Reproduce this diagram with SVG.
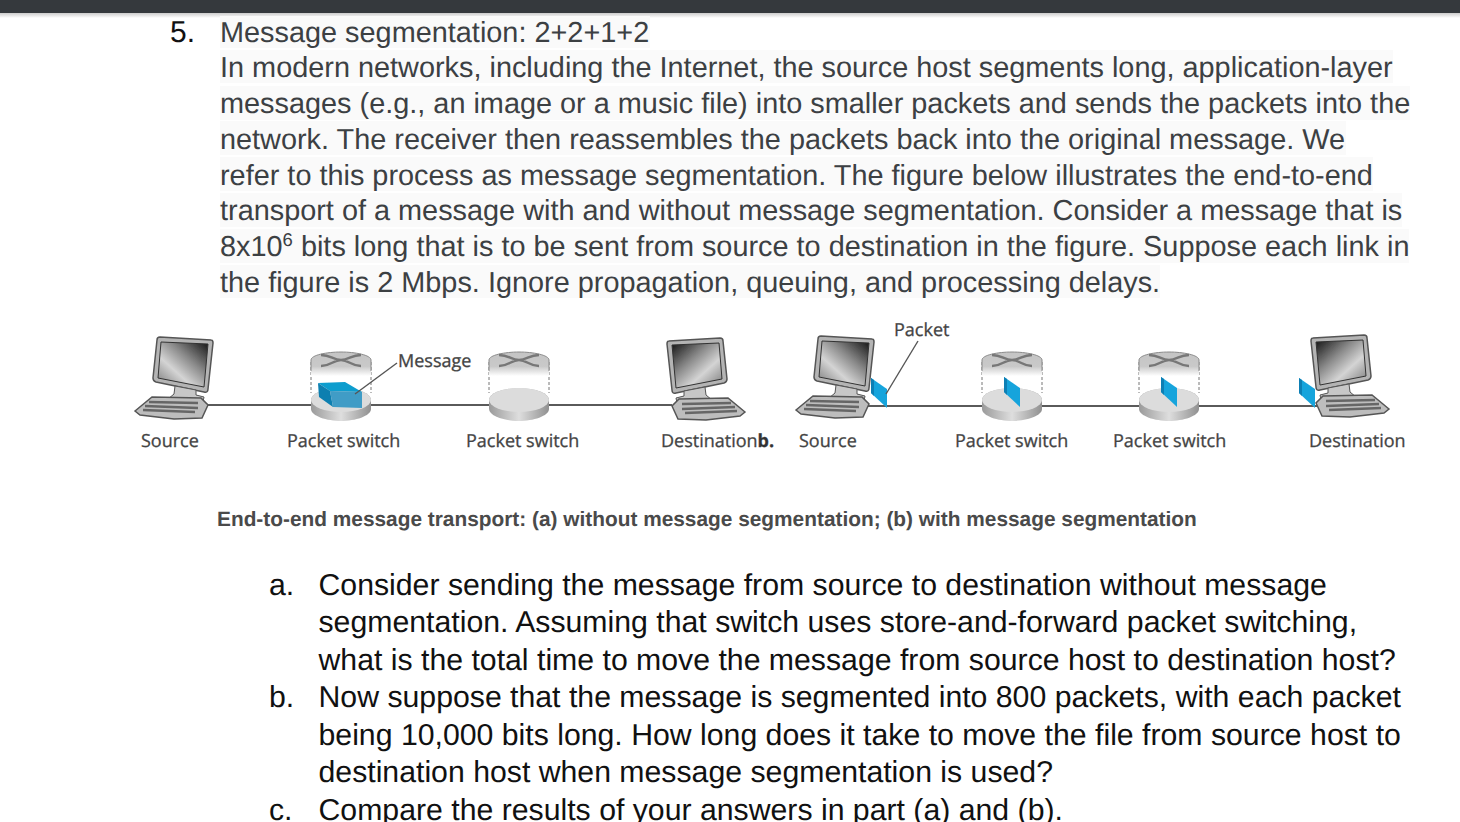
<svg xmlns="http://www.w3.org/2000/svg" width="1460" height="822" viewBox="0 0 1460 822">
<style>
text{text-rendering:geometricPrecision}
.q{font-family:"Liberation Sans",Arial,sans-serif;font-size:28.87px;fill:#3c4043}
.n{font-family:"Liberation Sans",Arial,sans-serif;font-size:30px;fill:#111}
.s{font-family:"Liberation Sans",Arial,sans-serif;font-size:30.24px;fill:#111}
.l{font-family:"Open Sans","Noto Sans",sans-serif;font-size:18px;fill:#444;stroke:#444;stroke-width:.3}
.c{font-family:"Liberation Sans",Arial,sans-serif;font-size:20.85px;font-weight:bold;fill:#4a4a4a}
.hl{fill:#fafafa}
.wire{stroke:#5a5a5a;stroke-width:2;fill:none}
.lead{stroke:#555;stroke-width:1.4;fill:none}
</style>
<defs>
<filter id="soft" x="-10%" y="-10%" width="120%" height="120%"><feGaussianBlur stdDeviation="0.5"/></filter>
<linearGradient id="shadow" x1="0" y1="0" x2="0" y2="1"><stop offset="0" stop-color="#ccc"/><stop offset="1" stop-color="#fff"/></linearGradient>
<linearGradient id="scr2" x1="0" y1="1" x2="1" y2="0"><stop offset="0" stop-color="#777"/><stop offset=".35" stop-color="#d4d4d4"/><stop offset=".62" stop-color="#8a8a8a"/><stop offset="1" stop-color="#141414"/></linearGradient>
<linearGradient id="cap" x1="0" y1="0" x2="0" y2="1"><stop offset="0" stop-color="#c4c4c4"/><stop offset=".6" stop-color="#c9c9c9"/><stop offset="1" stop-color="#fff"/></linearGradient>
<linearGradient id="base" x1="0" y1="0" x2="1" y2="0"><stop offset="0" stop-color="#9a9a9a"/><stop offset=".5" stop-color="#dedede"/><stop offset="1" stop-color="#909090"/></linearGradient>
<g id="computer">
<path d="M160 337 L211 340 Q213 340 213 343 L208 389 Q208 393 204 392 L156 382 Q153 381 153 378 L157 340 Q157 337 160 337Z" fill="#b4b4b4" stroke="#555" stroke-width="1.5"/>
<path d="M161 342 L208 344 L204 387 L158 378Z" fill="url(#scr2)" stroke="#333"/>
<path d="M175 386 L196 390 L196 395 L204 397 L203 402 L168 399 L174 394Z" fill="#c7c7c7" stroke="#555"/>
<path d="M135 411 L152 397 L201 398 L208 405 L202 418 L174 419 L140 415Z" fill="#bdbdbd" stroke="#555" stroke-width="1.5"/>
<path d="M149 402 L198 403 M145 406 L198 408 M143 410 L195 412" stroke="#666" stroke-width="2.6" fill="none"/>
</g>
<g id="switch">
<path d="M-30 -39 V-8 M30 -39 V-8" stroke="#777" stroke-dasharray="3 2" fill="none"/>
<path d="M-30 -1 A30 12 0 0 1 30 -1 V8 C30 15 14 20 0 20 C-14 20 -30 15 -30 8Z" fill="url(#base)"/>
<ellipse cx="0" cy="-1" rx="30" ry="12" fill="#dcdcdc"/>
<path d="M-30 -41 C-30 -46 -14 -49 0 -49 C14 -49 30 -46 30 -41 V-25 H-30Z" fill="url(#cap)"/>
<path d="M-30 -30 V-41 C-30 -46 -14 -49 0 -49 C14 -49 30 -46 30 -41 V-30" fill="none" stroke="#8a8a8a"/>
<path d="M-20 -46 C-10 -46 -8 -41 0 -41 C8 -41 10 -35 20 -35 M-20 -35 C-10 -35 -8 -41 0 -41 C8 -41 10 -46 20 -46" stroke="#777" stroke-width="2.4" fill="none"/>
</g>
<g id="pkt">
<path d="M0 0 L16 11 V30 L0 15Z" fill="#18a4dc"/>
<path d="M0 0 L3 2 V18 L0 15Z" fill="#0d7fb4"/>
</g>
</defs>
<rect width="1460" height="822" fill="#fff"/>
<rect y="13" width="1460" height="5" fill="url(#shadow)"/>
<rect width="1460" height="13" fill="#35393d"/>
<g id="highlights">
<rect class="hl" x="220" y="16" width="430" height="32"/><rect class="hl" x="220" y="50" width="1173" height="33"/><rect class="hl" x="220" y="86" width="1190" height="34"/><rect class="hl" x="220" y="121" width="1126" height="34"/><rect class="hl" x="220" y="157" width="1153" height="34"/><rect class="hl" x="220" y="193" width="1182" height="34"/><rect class="hl" x="220" y="229" width="1189" height="34"/><rect class="hl" x="220" y="265" width="940" height="33"/>
</g>
<g id="question">
<text class="n" x="170" y="42">5.</text>
<text class="q" x="220" y="42">Message segmentation: 2+2+1+2</text>
<text class="q" x="220" y="77">In modern networks, including the Internet, the source host segments long, application-layer</text>
<text class="q" x="220" y="113">messages (e.g., an image or a music file) into smaller packets and sends the packets into the</text>
<text class="q" x="220" y="149">network. The receiver then reassembles the packets back into the original message. We</text>
<text class="q" x="220" y="185">refer to this process as message segmentation. The figure below illustrates the end-to-end</text>
<text class="q" x="220" y="220">transport of a message with and without message segmentation. Consider a message that is</text>
<text class="q" x="220" y="256">8x10<tspan font-size="18.5" dy="-10">6</tspan><tspan dy="10"> bits long that is to be sent from source to destination in the figure. Suppose each link in</tspan></text>
<text class="q" x="220" y="292">the figure is 2 Mbps. Ignore propagation, queuing, and processing delays.</text>
</g>
<g id="connectors" filter="url(#soft)">
<path class="wire" d="M205 405 H672"/>
<path class="wire" d="M868 406 H1320"/>
</g>
<g id="src-a" filter="url(#soft)"><use href="#computer"/></g>
<g id="dst-a" filter="url(#soft)"><use href="#computer" transform="translate(880 1) scale(-1 1)"/></g>
<g id="src-b" filter="url(#soft)"><use href="#computer" transform="translate(661 -1)"/></g>
<g id="dst-b" filter="url(#soft)"><use href="#computer" transform="translate(1524 -2) scale(-1 1)"/></g>
<g id="sw-a1" filter="url(#soft)"><use href="#switch" transform="translate(341 401)"/>
<path d="M318 383 L345 382 L362 392 L330 391Z" fill="#119dce"/><path d="M318 383 L330 391 L333 407 L319 397Z" fill="#0a7fb0"/><path d="M330 391 L362 392 V408 L333 407Z" fill="#3f9cc6"/></g>
<g id="sw-a2" filter="url(#soft)"><use href="#switch" transform="translate(519 401)"/></g>
<g id="sw-b1" filter="url(#soft)"><use href="#switch" transform="translate(1012 401)"/><use href="#pkt" transform="translate(1004 377)"/></g>
<g id="sw-b2" filter="url(#soft)"><use href="#switch" transform="translate(1169 401)"/><use href="#pkt" transform="translate(1161 377)"/></g>
<g id="pkt-src" filter="url(#soft)"><use href="#pkt" transform="translate(871 378)"/></g>
<g id="pkt-dst" filter="url(#soft)"><use href="#pkt" transform="translate(1299 378)"/></g>
<g id="leaders" filter="url(#soft)">
<path class="lead" d="M397 363 L355 394"/>
<path class="lead" d="M918 341 L886 394"/>
</g>
<g id="labels">
<text class="l" x="398" y="367">Message</text>
<text class="l" x="894" y="336">Packet</text>
<text class="l" x="141" y="447">Source</text>
<text class="l" x="287" y="447">Packet switch</text>
<text class="l" x="466" y="447">Packet switch</text>
<text class="l" x="661" y="447">Destination<tspan font-weight="bold" fill="#333">b.</tspan></text>
<text class="l" x="799" y="447">Source</text>
<text class="l" x="955" y="447">Packet switch</text>
<text class="l" x="1113" y="447">Packet switch</text>
<text class="l" x="1309" y="447">Destination</text>
</g>
<text id="caption" class="c" x="217" y="526">End-to-end message transport: (a) without message segmentation; (b) with message segmentation</text>
<g id="subparts">
<text class="s" x="269" y="595">a.</text>
<text class="s" x="318.5" y="595">Consider sending the message from source to destination without message</text>
<text class="s" x="318.5" y="632">segmentation. Assuming that switch uses store-and-forward packet switching,</text>
<text class="s" x="318.5" y="670">what is the total time to move the message from source host to destination host?</text>
<text class="s" x="269" y="707">b.</text>
<text class="s" x="318.5" y="707">Now suppose that the message is segmented into 800 packets, with each packet</text>
<text class="s" x="318.5" y="745">being 10,000 bits long. How long does it take to move the file from source host to</text>
<text class="s" x="318.5" y="782">destination host when message segmentation is used?</text>
<text class="s" x="269" y="820">c.</text>
<text class="s" x="318.5" y="820">Compare the results of your answers in part (a) and (b).</text>
</g>
</svg>
